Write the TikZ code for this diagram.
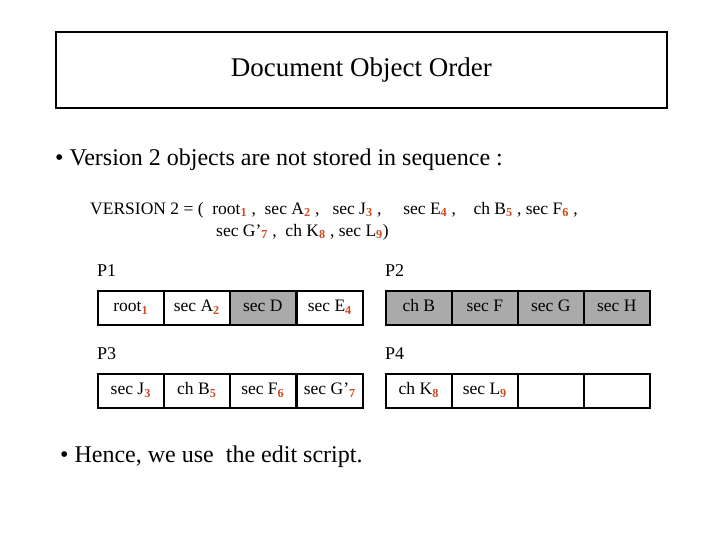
\documentclass[tikz,border=0pt]{standalone}
\usepackage{fontspec}
\setmainfont{Liberation Serif}
\definecolor{sub}{RGB}{205,75,30}
\definecolor{shade}{RGB}{170,170,170}
\newcommand{\rsub}[1]{\textsubscript{\textcolor{sub}{\textbf{#1}}}}
\begin{document}
\begin{tikzpicture}[x=1pt,y=-1pt,
  cell/.style={draw,line width=1.6pt,minimum width=66pt,minimum height=34pt,anchor=north west,inner sep=0pt,text height=12pt,text depth=4pt,font=\fontsize{17.5}{19}\selectfont},
  gcell/.style={cell,fill=shade},
  lab/.style={anchor=west,font=\fontsize{18}{20}\selectfont,inner sep=0pt}]
\useasboundingbox (0,0) rectangle (720,540);
\node[draw,line width=1.6pt,minimum width=611pt,minimum height=76pt,anchor=north west,font=\fontsize{27}{30}\selectfont] (title) at (55,31) {Document Object Order};
\node[anchor=west,font=\fontsize{24}{28}\selectfont,inner sep=0pt] (b1) at (55,160) {\textbullet\ Version 2 objects are not stored in sequence :};
\node[anchor=west,font=\fontsize{17.5}{19}\selectfont,inner sep=0pt] (v1) at (90,210) {VERSION 2 = (\ \ root\rsub{1} ,\ \ sec A\rsub{2} ,\ \ \ sec J\rsub{3} ,\ \ \ \ \ sec E\rsub{4} ,\ \ \ \ ch B\rsub{5} , sec F\rsub{6} ,};
\node[anchor=west,font=\fontsize{17.5}{19}\selectfont,inner sep=0pt] (v2) at (216,232) {sec G'\rsub{7} ,\ \ ch K\rsub{8} , sec L\rsub{9})};
\node[lab] (p1) at (97,271) {P1};
\node[lab] (p2) at (385,271) {P2};
\node[lab] (p3) at (97,354) {P3};
\node[lab] (p4) at (385,354) {P4};
\node[cell] (a1) at (97,290) {root\rsub{1}};
\node[cell] (a2) at (163,290) {sec A\rsub{2}};
\node[gcell] (a3) at (229,290) {sec D};
\node[cell] (a4) at (296,290) {sec E\rsub{4}};
\node[gcell] (b1c) at (385,290) {ch B};
\node[gcell] (b2) at (451,290) {sec F};
\node[gcell] (b3) at (517,290) {sec G};
\node[gcell] (b4) at (583,290) {sec H};
\node[cell] (c1) at (97,373) {sec J\rsub{3}};
\node[cell] (c2) at (163,373) {ch B\rsub{5}};
\node[cell] (c3) at (229,373) {sec F\rsub{6}};
\node[cell] (c4) at (296,373) {sec G'\rsub{7}};
\node[cell] (d1) at (385,373) {ch K\rsub{8}};
\node[cell] (d2) at (451,373) {sec L\rsub{9}};
\node[cell] (d3) at (517,373) {};
\node[cell] (d4) at (583,373) {};
\node[anchor=west,font=\fontsize{24}{28}\selectfont,inner sep=0pt] (b2t) at (60,457) {\textbullet\ Hence, we use\ \ the edit script.};
\end{tikzpicture}
\end{document}
